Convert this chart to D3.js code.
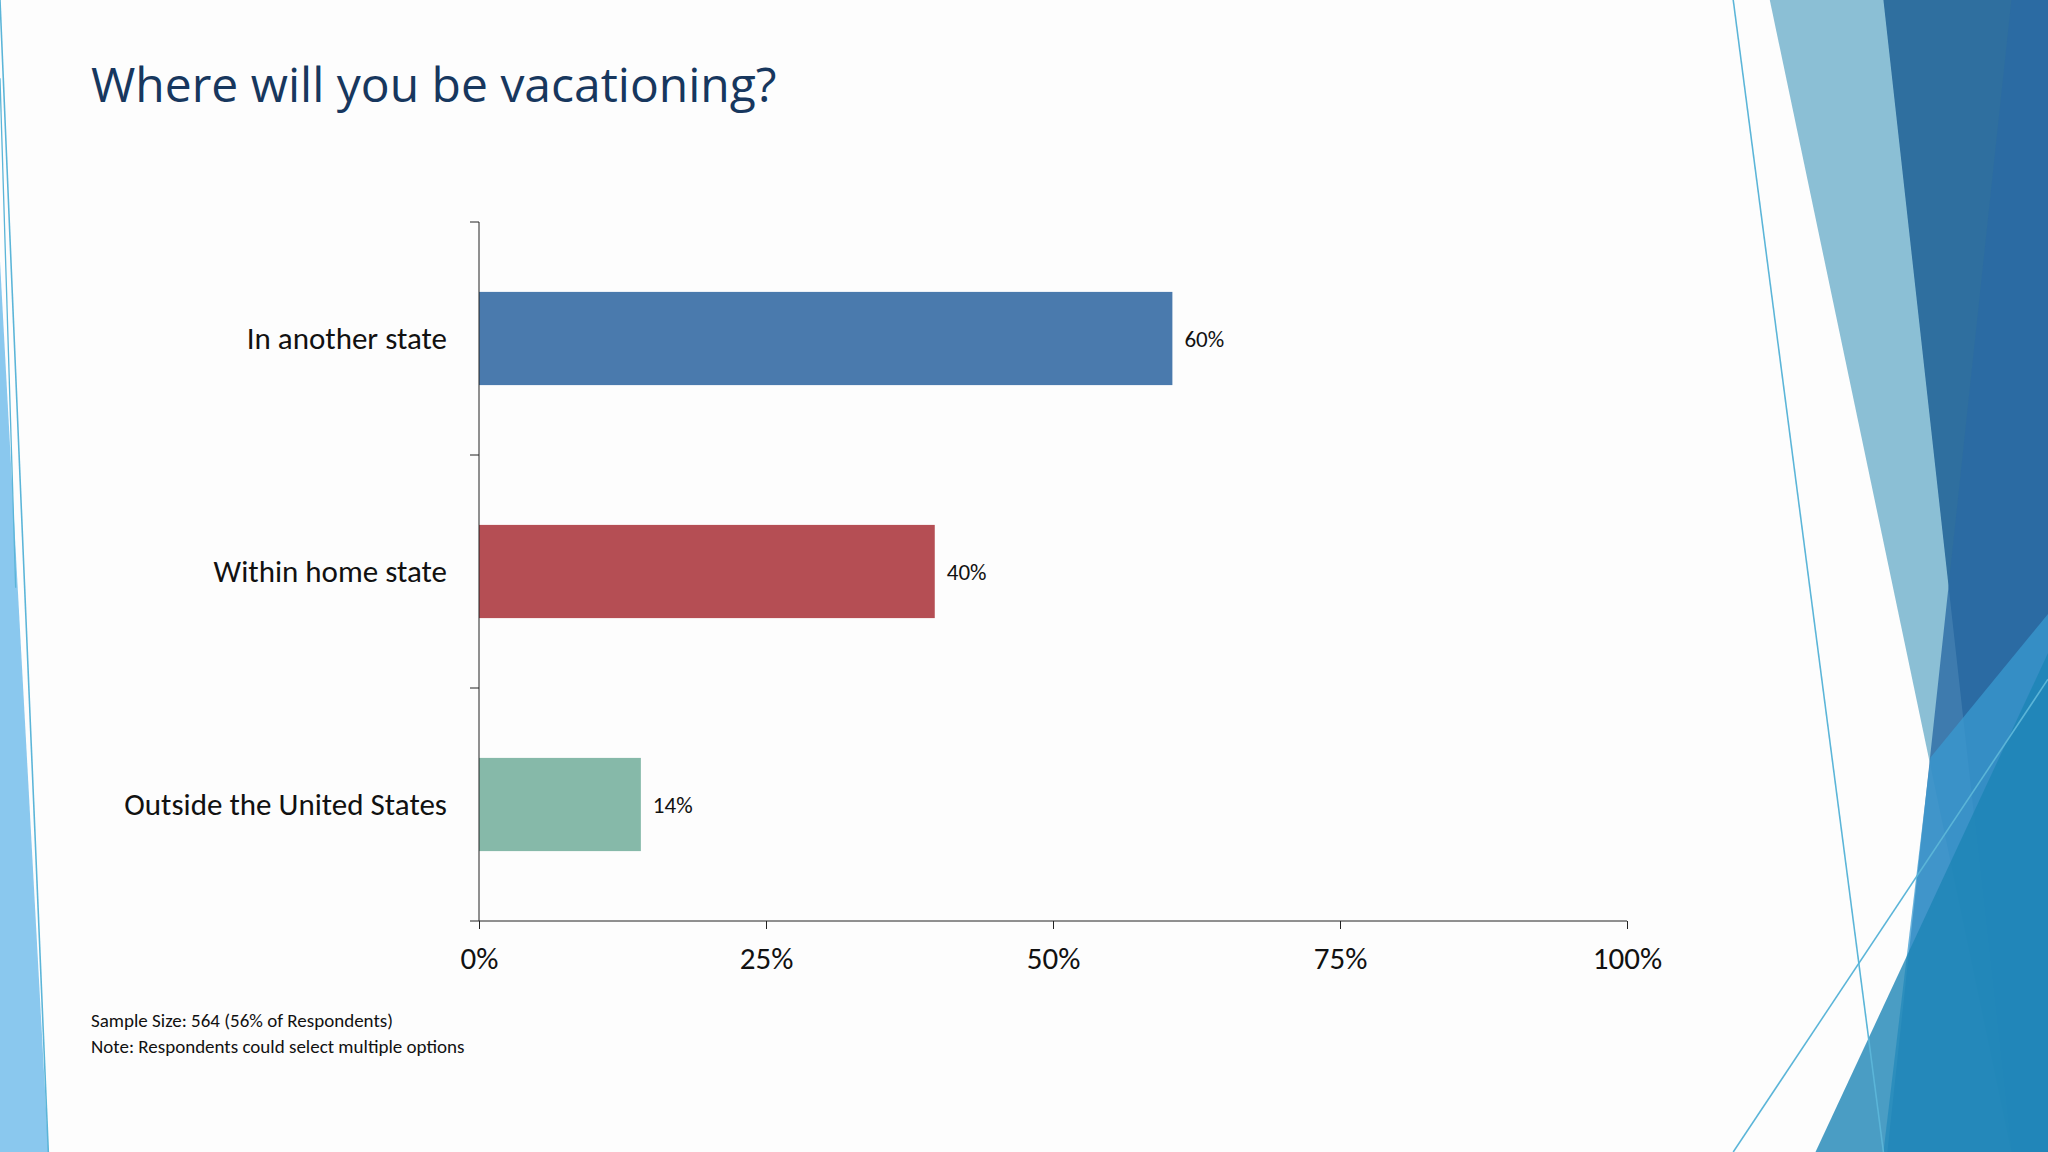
<!DOCTYPE html>
<html><head><meta charset="utf-8">
<script src="https://cdn.jsdelivr.net/npm/d3@7"></script>
<style>body{margin:0;background:#fff}svg{display:block}</style>
</head><body>
<script>
const categories = ["In another state","Within home state","Outside the United States"];
const values = [60.4, 39.7, 14.1];
const valueLabels = ["60%","40%","14%"];
const colors = ["#4a7aad","#b54e54","#86b9a9"];
const ticks = [0,25,50,75,100];
const tickLabels = ["0%","25%","50%","75%","100%"];

const W=2048,H=1152,s=2048/1568;
const svg=d3.select("body").append("svg").attr("width",W).attr("height",H);
svg.append("rect").attr("width",W).attr("height",H).attr("fill","#fdfdfd");

// decorations (in 1568-wide coords, scaled)
const deco=svg.append("g").attr("transform",`scale(${s})`);
const poly=(pts,fill,op)=>deco.append("polygon").attr("points",pts.map(p=>p.join(",")).join(" ")).attr("fill",fill).attr("opacity",op);
poly([[1355,0],[1568,0],[1568,882],[1540,882]],"#8bbfd5",1);
poly([[1442,0],[1568,0],[1568,882],[1540,882]],"#2f6f9f",1);
poly([[1540,0],[1568,0],[1568,882],[1445,882],[1495,420]],"#2a6aa4",0.8);
poly([[1478,580],[1568,470],[1568,882],[1442,882]],"#3a9ad0",0.75);
poly([[1390,882],[1568,500],[1568,882]],"#1d85b5",0.8);
deco.append("line").attr("x1",1327).attr("y1",0).attr("x2",1442).attr("y2",882).attr("stroke","#5bb5d8").attr("stroke-width",1.2);
deco.append("line").attr("x1",1327).attr("y1",882).attr("x2",1568).attr("y2",520).attr("stroke","#5bb5d8").attr("stroke-width",1.2);
poly([[0,200],[0,882],[37,882]],"#8ac8ee",1);
deco.append("line").attr("x1",0).attr("y1",0).attr("x2",37).attr("y2",882).attr("stroke","#5bb5d8").attr("stroke-width",1.2);
deco.append("line").attr("x1",0).attr("y1",60).attr("x2",12).attr("y2",450).attr("stroke","#5bb5d8").attr("stroke-width",1);

svg.append("text").attr("x",91).attr("y",102).attr("font-family","Open Sans, sans-serif").attr("font-size",48).attr("fill","#17375e").text("Where will you be vacationing?");

const x=d3.scaleLinear().domain([0,100]).range([479,1627]);
const y=d3.scaleBand().domain(categories).range([222,921]).paddingInner(0.6).paddingOuter(0.3);
const f="Carlito, Calibri, 'Liberation Sans', 'Open Sans', sans-serif";

svg.selectAll("rect.bar").data(values).join("rect").attr("class","bar")
 .attr("x",x(0)).attr("y",(d,i)=>y(categories[i])).attr("width",d=>x(d)-x(0)).attr("height",y.bandwidth()).attr("fill",(d,i)=>colors[i]);
svg.selectAll("text.val").data(values).join("text").attr("class","val")
 .attr("x",d=>x(d)+12).attr("y",(d,i)=>y(categories[i])+y.bandwidth()/2).attr("dy","0.35em")
 .attr("font-family",f).attr("font-size",23).attr("fill","#111").text((d,i)=>valueLabels[i]);

const xa=svg.append("g").attr("transform","translate(0,921)").call(d3.axisBottom(x).tickValues(ticks).tickFormat((d,i)=>tickLabels[i]).tickSize(8).tickPadding(18));
xa.selectAll("text").attr("font-family",f).attr("font-size",31).attr("fill","#111");
xa.selectAll("path,line").attr("stroke","#222");
xa.select(".domain").attr("d","M479,0H1627");

const yEdges=d3.scaleLinear().domain([0,3]).range([222,921]);
const ya=svg.append("g").attr("transform","translate(479,0)");
ya.append("line").attr("y1",222).attr("y2",921).attr("stroke","#222");
ya.selectAll("line.t").data([0,1,2,3]).join("line").attr("class","t").attr("x1",-9).attr("x2",0).attr("y1",d=>yEdges(d)).attr("y2",d=>yEdges(d)).attr("stroke","#222");
ya.selectAll("text").data(categories).join("text").attr("x",-32).attr("y",d=>y(d)+y.bandwidth()/2).attr("dy","0.35em").attr("text-anchor","end")
 .attr("font-family",f).attr("font-size",31).attr("fill","#111").text(d=>d);

["Sample Size: 564 (56% of Respondents)","Note: Respondents could select multiple options"].forEach((t,i)=>
 svg.append("text").attr("x",91).attr("y",1027+i*26).attr("font-family",f).attr("font-size",19).attr("fill","#111").text(t));
</script>
</body></html>
